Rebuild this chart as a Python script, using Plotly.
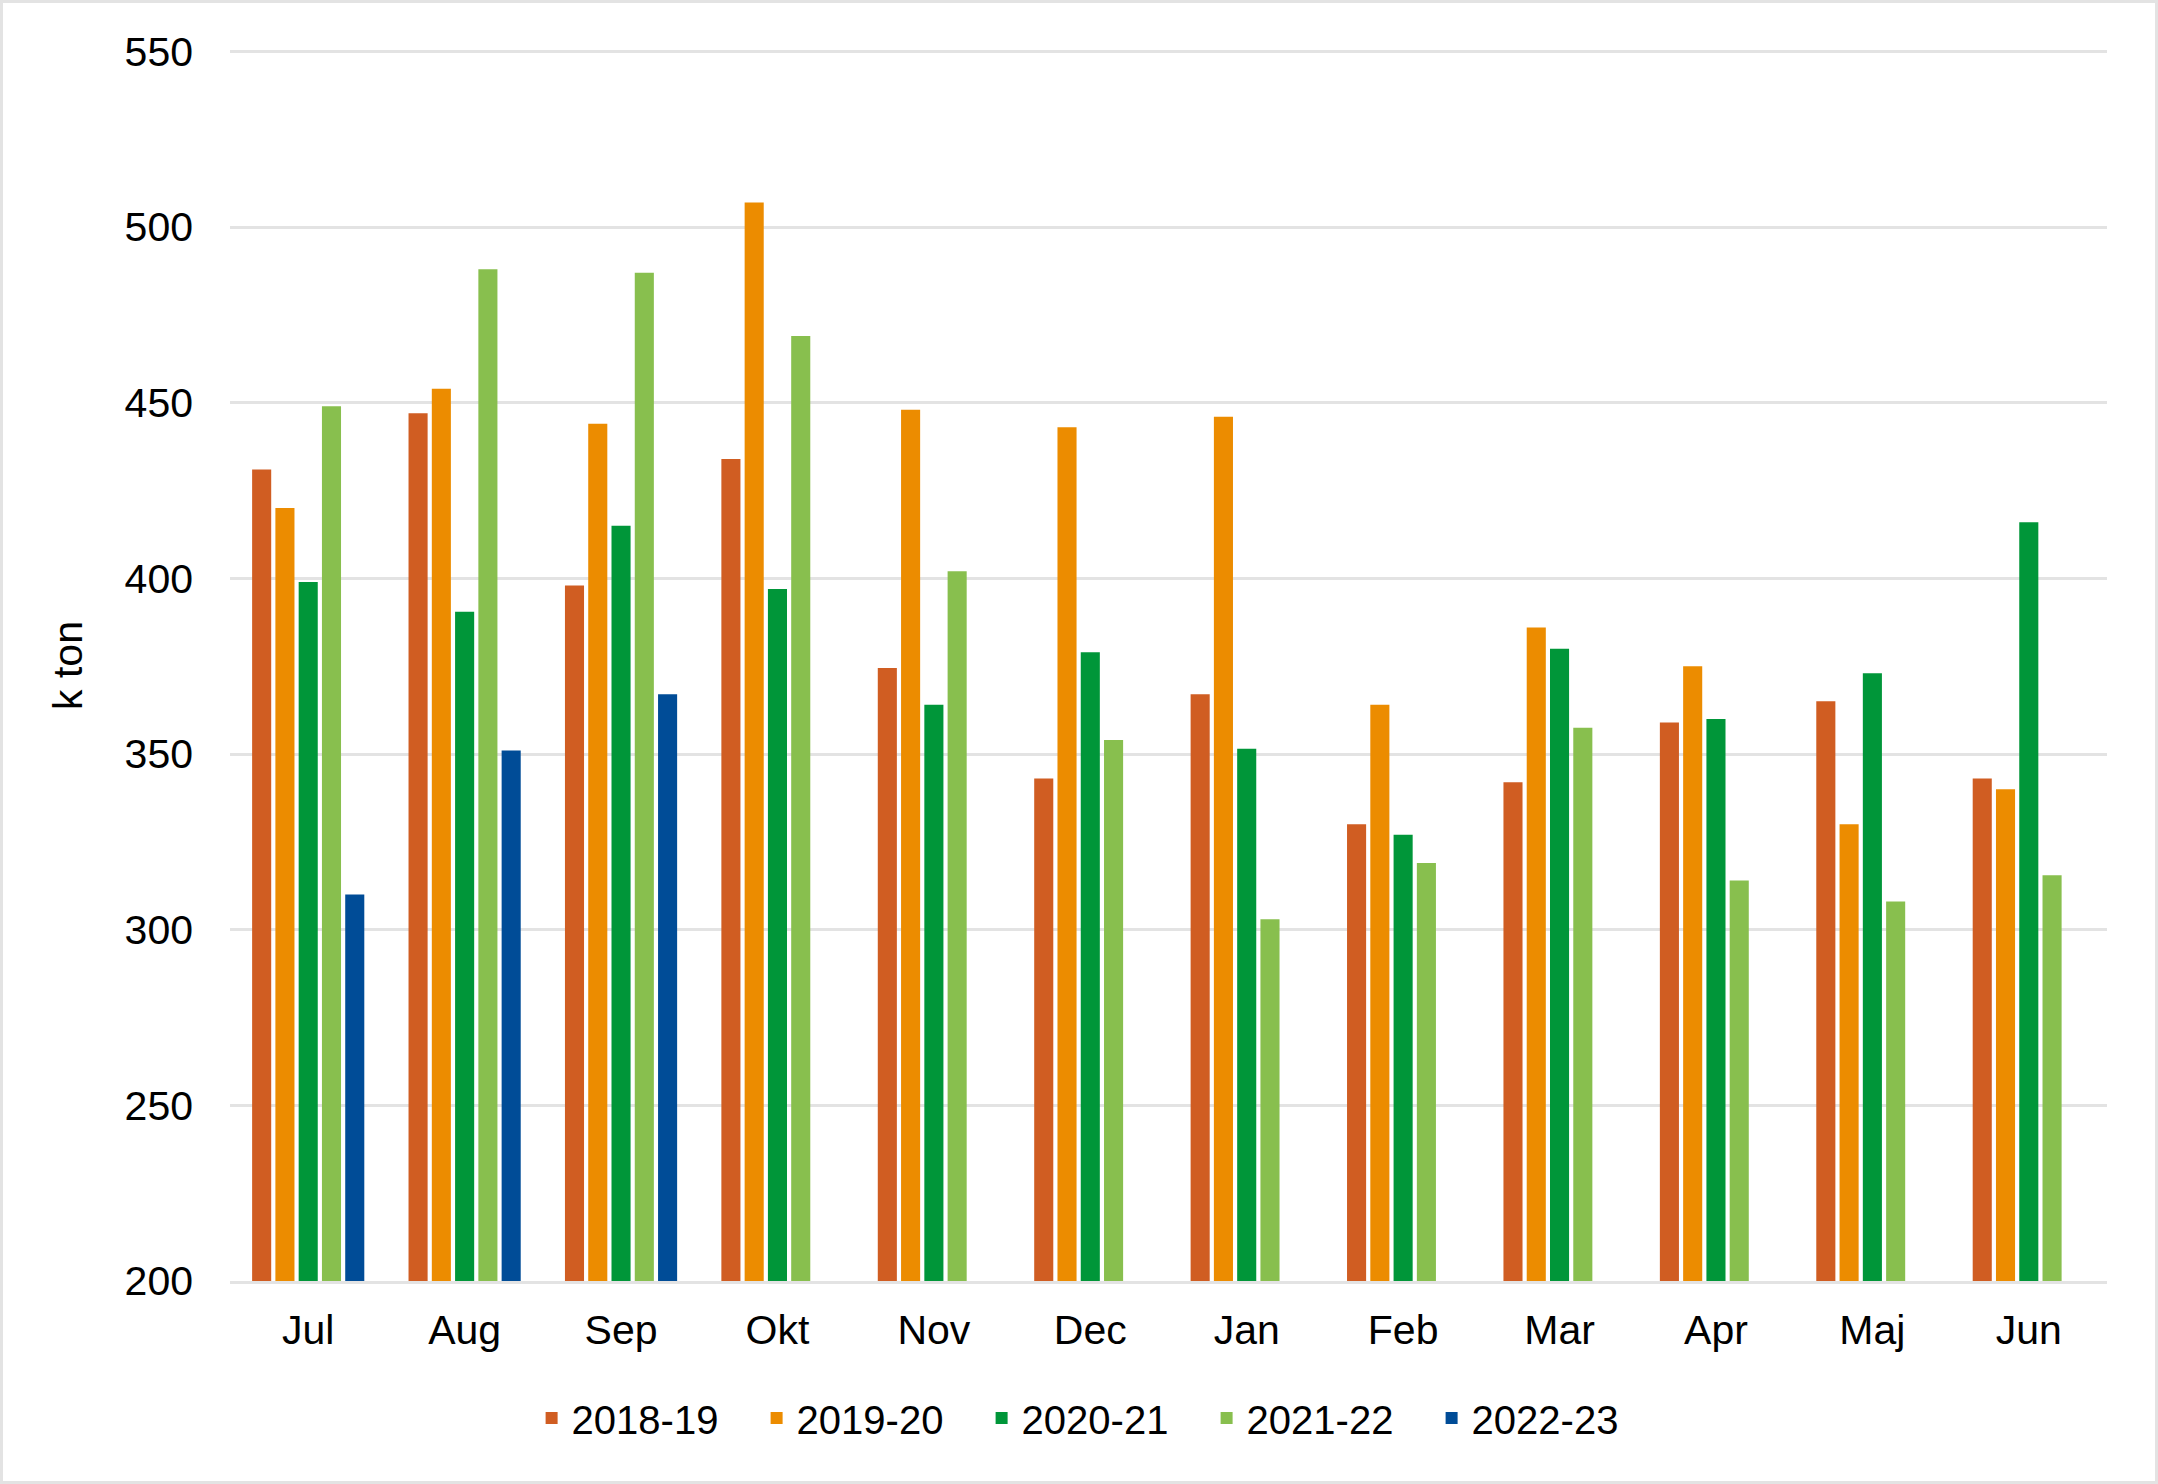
import plotly.graph_objects as go

months = ["Jul", "Aug", "Sep", "Okt", "Nov", "Dec", "Jan", "Feb", "Mar", "Apr", "Maj", "Jun"]
s2018_19 = [431, 447, 398, 434, 374.5, 343, 367, 330, 342, 359, 365, 343]
s2019_20 = [420, 454, 444, 507, 448, 443, 446, 364, 386, 375, 330, 340]
s2020_21 = [399, 390.5, 415, 397, 364, 379, 351.5, 327, 380, 360, 373, 416]
s2021_22 = [449, 488, 487, 469, 402, 354, 303, 319, 357.5, 314, 308, 315.5]
s2022_23 = [310, 351, 367, None, None, None, None, None, None, None, None, None]

series = [
    ("2018-19", s2018_19, "#D05D22"),
    ("2019-20", s2019_20, "#EC8C00"),
    ("2020-21", s2020_21, "#009639"),
    ("2021-22", s2021_22, "#88BF4E"),
    ("2022-23", s2022_23, "#004C97"),
]

W, H = 2158, 1484
ml, mr, mt, mb = 230, 51, 50, 203
FONT = "Liberation Sans, Arial, sans-serif"

fig = go.Figure()
for name, vals, col in series:
    fig.add_trace(go.Bar(x=months, y=vals, name=name, marker=dict(color=col, line=dict(width=0))))

pw = W - ml - mr
ph = H - mt - mb
fig.add_shape(type="rect", xref="paper", yref="paper",
              x0=-(ml - 1.5) / pw, x1=1 + (mr - 1.5) / pw,
              y0=-(mb - 1.5) / ph, y1=1 + (mt - 1.5) / ph,
              line=dict(color="#E3E3E3", width=3), layer="below")

fig.update_layout(
    width=W, height=H,
    margin=dict(l=ml, r=mr, t=mt, b=mb, autoexpand=False),
    paper_bgcolor="white", plot_bgcolor="white",
    barmode="group", bargap=0.256, bargroupgap=0.18,
    font=dict(family=FONT, size=41, color="black"),
    showlegend=True,
    legend=dict(orientation="h", xref="container", yref="container",
                x=0.507, xanchor="center", y=1 - 1418 / H, yanchor="middle",
                font=dict(size=40), itemwidth=30, traceorder="normal",
                entrywidth=180, entrywidthmode="pixels"),
    xaxis=dict(showgrid=False, showline=True, linecolor="#E3E3E3", linewidth=3,
               ticks="", tickfont=dict(size=41), ticklabelstandoff=11),
    yaxis=dict(range=[200, 550.4], dtick=50, tick0=200, showgrid=True, gridcolor="#E3E3E3",
               gridwidth=2.5, zeroline=False, ticks="", tickfont=dict(size=41),
               ticklabelstandoff=36,
               title=dict(text="k ton", font=dict(size=41), standoff=29)),
)

fig.write_html("out.html")
